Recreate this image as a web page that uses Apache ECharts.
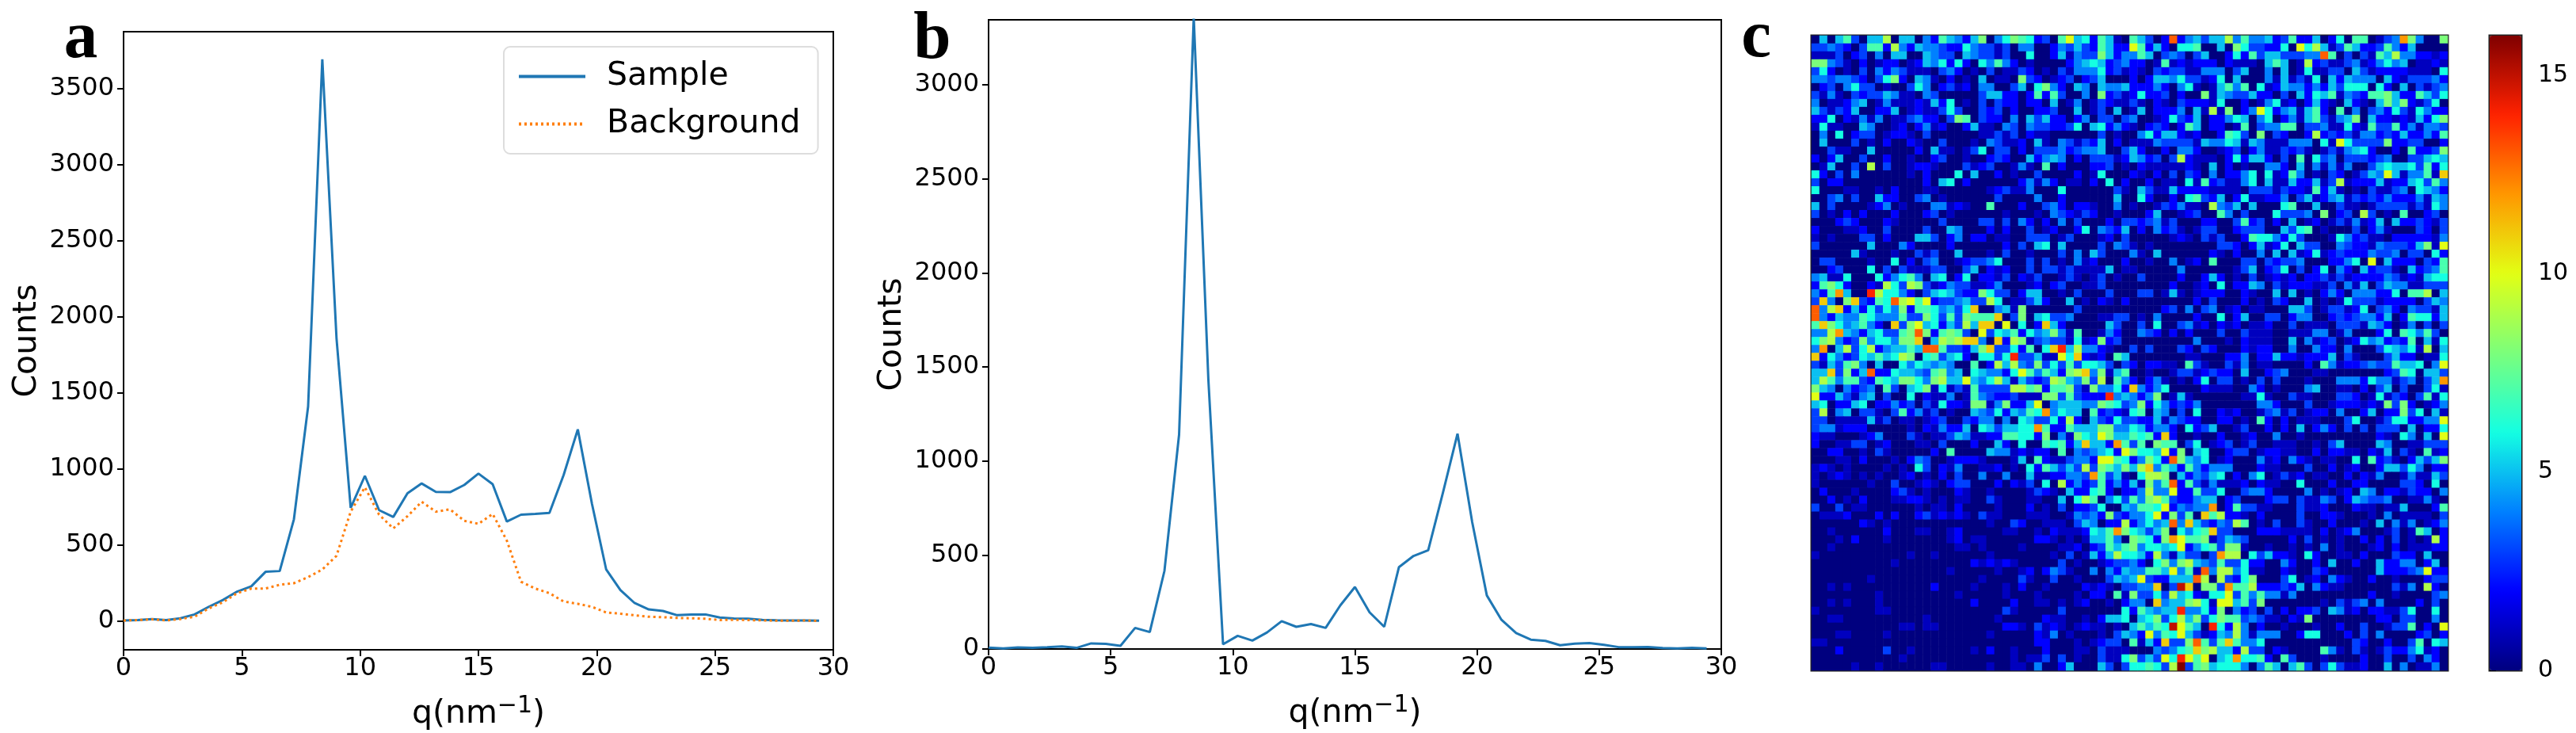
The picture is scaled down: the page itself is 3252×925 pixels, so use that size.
<!DOCTYPE html>
<html>
<head>
    <meta charset="utf-8">
    <script type="text/javascript" src="https://cdn.jsdelivr.net/npm/echarts@6/dist/echarts.min.js"></script>
    <style type="text/css">
        *{
            margin: 0;
            padding: 0;
        }
        #main{
            width: 3252px;
            height: 925px;
        }
    </style>
</head>
<body>
<div id="main"></div>
<script type="text/javascript">
    var qValues = [0, 0.6, 1.2, 1.8, 2.4, 3, 3.6, 4.2, 4.8, 5.4, 6, 6.6, 7.2, 7.8, 8.4, 9, 9.6, 10.2, 10.8, 11.4, 12, 12.6, 13.2, 13.8, 14.4, 15, 15.6, 16.2, 16.8, 17.4, 18, 18.6, 19.2, 19.8, 20.4, 21, 21.6, 22.2, 22.8, 23.4, 24, 24.6, 25.2, 25.8, 26.4, 27, 27.6, 28.2, 28.8, 29.4];
    var sampleCounts = [5, 8, 15, 8, 20, 45, 95, 140, 195, 230, 325, 330, 670, 1410, 3690, 1860, 745, 955, 730, 685, 840, 905, 850, 848, 895, 970, 900, 655, 700, 705, 712, 960, 1260, 770, 340, 205, 120, 78, 68, 40, 45, 45, 25, 18, 17, 10, 7, 5, 6, 4];
    var backgroundCounts = [5, 8, 13, 6, 15, 30, 85, 125, 185, 215, 215, 240, 250, 290, 340, 430, 720, 880, 700, 610, 690, 785, 720, 735, 660, 640, 705, 530, 260, 215, 185, 130, 115, 95, 58, 50, 40, 30, 27, 22, 20, 17, 8, 10, 8, 6, 4, 4, 5, 3];
    var subtractedCounts = [7, 3, 8, 6, 9, 14, 6, 30, 27, 17, 112, 90, 415, 1140, 3360, 1430, 25, 70, 45, 88, 148, 118, 133, 112, 232, 330, 195, 118, 435, 495, 525, 830, 1145, 675, 285, 155, 85, 50, 43, 20, 28, 32, 22, 10, 10, 11, 5, 3, 6, 3];
    var ticksA = [0, 500, 1000, 1500, 2000, 2500, 3000, 3500];
    var ticksB = [0, 500, 1000, 1500, 2000, 2500, 3000];
    var ticksBar = [0, 5, 10, 15];

    // map counts, one base-17 digit per cell (0-g), 80 rows of 80
    var cellRows = [
        "0505730559 0550427542 5804687623 07a5627510 75302d2453 5594744523 7225026077 0134c84008",
        "3343203772 9425443226 4331304400 2435327522 a725206670 0508633226 0a69513752 2374250000",
        "1113023040 5500543305 4331300600 2514338524 4750343035 0026273553 3344d70303 1759442212",
        "8843102012 2012546262 0647420100 0024565234 2201712122 2021110575 0192311341 2464501121",
        "3620103042 4311103420 1030113201 0314446231 2103233114 4403500405 0161133053 1222211106",
        "4434432036 8205410201 0501108320 1230235000 2025546331 2605000415 1316052544 4052133342",
        "0230463301 0036402312 0440035068 4205405445 2224204610 1574706125 4424253666 0620503134",
        "3141032335 4110430000 0355220272 7300408231 2622302008 1543352203 0526571432 7785227536",
        "4011245014 1112152601 0303220220 5014013211 3102103222 1600201461 2025210521 0585821360",
        "5313250022 5012113630 0323020022 3005013050 1502224051 918024a624 5157207040 3426316422",
        "2260214140 1134220387 0322040535 2202403303 4001263250 2246504602 4157314580 5221215268",
        "1611005400 1202412002 5110430433 2236056242 1023202750 2201703447 7033411621 7337241443",
        "0406023301 2210300000 0113130211 0000003010 0462552120 0276308032 0029232314 4232522427",
        "0500030102 0021003000 1043112051 0431325020 1114333315 4465154111 444061a633 3382233002",
        "0031100500 0002051101 3603302033 3423445003 5200204420 0123024113 2310131456 2002072238",
        "2025003002 0010023001 0023200524 5402033312 5423039211 1026255203 0706340333 2340033565",
        "0150030903 0012210003 1230014107 0200022301 0211111210 5020100442 0504141400 3565563726",
        "6203040000 0010200060 5002010030 0002016000 2102030320 4022460612 7401032013 54a514471b",
        "3022000000 0000205602 0000002414 2011020602 0020110617 2311460511 5225139122 2512256374",
        "6000110010 2000110000 0012311400 0600000031 0531152222 1111033313 2217251010 3113406542",
        "0034030052 2003401000 0003000040 0200000050 0620020673 2502611224 0351245132 3242224154",
        "5030000124 0100044121 0070002003 4202210040 1001324110 9435050006 7005003110 1333313164",
        "3010202000 2000230100 0000100010 4321320010 0025001230 0740300063 3340802309 3010700230",
        "0002320002 1000003000 0330304202 0403000203 3234130002 2003723020 5012013141 2505223213",
        "2000112003 0000300540 0020200301 2002604325 0204231013 3002333005 3670100030 2410003203",
        "1010003302 0005530240 2201100333 0130001203 0000012103 1300276642 6300016423 1102222214",
        "3000000500 0420000200 0000203056 0500003043 1010000000 0332025126 0533004322 143332581a",
        "0000051000 1003130050 0010300100 0304053000 4105000000 2102004050 5126123222 4334033062",
        "0330000100 6020340012 3346000303 0104120002 0010040120 7000330323 3400022460 a052220327",
        "0023000603 0311133003 5021200303 3131111501 1000004000 0001350236 0302604205 2331052347",
        "4511600062 4674056026 0221302130 0131013010 0300002002 5201030121 2022313122 2243121566",
        "2786200219 6398312433 1124000120 2300113000 0000020012 0602254031 2221130415 0354411333",
        "427c500e96 6420356532 2863302550 0103000300 0330151012 2200210050 5010242044 4226077905",
        "3b408b3276 d9a7a23345 3396011352 0050102102 0000000020 3000201032 0050101633 3122220354",
        "d49b252636 4827764536 b004518000 0003000000 0000230403 4012011000 5530133126 0342043315",
        "d425447644 4733863738 777b038056 3340001133 0104000020 0602500330 2440023234 4250276625",
        "7b86457420 b38a562539 5bb0a0602b 5200000530 0306003412 0212011200 3011103331 5420140303",
        "449c542563 378d827873 0a36572645 8417001420 0432020200 0300311100 1114401400 0260764730",
        "6894238466 488b05989b b40b298134 3316128230 0000000040 0010211100 5041230126 4523270516",
        "4c05936924 5575dd7332 58b3362706 be59442100 3030003203 2000212200 4004220400 0365461905",
        "b264236575 6980673562 06636e3351 1a6b212075 0000000110 0022402252 2122250310 0035220116",
        "3153784050 0646545400 7029594383 6373665303 2022110731 0031401100 0020741223 433755604a",
        "55b3825d22 6554378450 654426a747 5289b48157 0010013312 3220500234 0001100000 0023760553",
        "5974773276 588648955a 5469515323 9854839074 2024101026 0330103030 0010004442 644134035c",
        "8540423407 3056816131 7333399782 7783184462 b424600002 1110042010 0045001102 0350300361",
        "a225314503 0060211401 7432231118 8373222e45 4248015100 0000116100 3110003320 1613203716",
        "5602256022 4230316221 88148225a0 4555448763 4826423240 0000004420 0030012221 2183820124",
        "3904503310 3724130100 543625476c 4655072321 6705403060 0212001341 3012204002 5022836051",
        "3301111513 0110123003 2440406533 6292053263 3225143220 0220107202 0111000360 013662244a",
        "3441222000 0010214225 06535566c7 2275558844 6524420623 5001300202 0502420303 0333050226",
        "2110001240 0031011354 1122776628 041865a855 7672b20010 0200120040 0100000000 021064050a",
        "2001133012 0001103000 2005206007 6725b552c7 3708770360 1230130011 1001035000 0540011333",
        "0022001031 0000020700 0054412122 070434562a 8665a28056 0023301221 1002022110 2150310712",
        "0001102000 1024300122 2100015072 113442aa76 24862d8546 0120004120 4210110060 7231025358",
        "1210100001 0106302140 0112010627 5353938758 59b4752742 4440002110 0030020120 0255364022",
        "1012101010 0120102030 0400400511 22443c7351 0699805243 5602046013 1201100202 1400141153",
        "1000000100 3001210233 0002021306 0924237242 51847d2731 4111202110 0600020022 0000332060",
        "0200010000 2310100021 0010000132 1052267202 24944a2273 3600344200 0040101205 4022132204",
        "0020102000 1122101011 0031000110 0506970463 7489732245 5023000233 0311430254 3340011410",
        "3003011000 0001011020 0001000201 0302236005 4776a24344 c027331100 0311200021 1011500027",
        "0111200020 2002312121 0311000111 0014342832 446a28370b 7922102000 0300221000 1040111103",
        "0000002101 0000000000 0010032001 1103540229 24645d4b53 2439701030 0310020001 0504140124",
        "0010000002 0001100120 0000110010 21112657c8 6535806467 b330002221 1110201240 0013017502",
        "0001020001 0000000120 1100000022 1010155740 87628ca778 1354300000 2030101002 0203010192",
        "0010000000 0000000011 0100001000 0112023757 846656a246 7388100100 1010401000 1202011122",
        "1000000000 0010010000 0010000000 1030152596 6529415330 3c99063522 1062001102 0003220500",
        "0000000000 1000000000 2121210000 0301001233 4206848954 3733622004 2002050020 0522440250",
        "0000000000 0000000100 0001001202 4310040425 44775a471d 4994611002 1003200000 0522234a22",
        "0000000100 0000000000 0100003100 3001000354 5a322555d9 0932680003 6012042100 2001000233",
        "0010100000 0000020000 1000102001 0000212103 344b03fb08 83c7792223 2504211000 0003140920",
        "0000000010 0000000010 0000100010 0001022071 8336395621 66a3747441 4000000000 2001000034",
        "0010100010 0000000000 2000020011 0101200102 440b455896 1aa5738000 0000103134 0400002030",
        "1000000011 0000000000 0000310000 0300000006 275455e446 2804230302 0223054120 2211360060",
        "0011000000 0000100000 0001000002 1100102556 0568369583 6877343110 2180000000 0220330040",
        "0000000000 0110110000 0000221031 2101211010 57576fa750 e629402001 0001002003 001337020a",
        "0001100001 0000000000 0010000021 4010001035 42a476a531 2549414440 0266000203 0400002302",
        "1100000000 0000000000 0000000022 0001012330 7152b338d7 37b7446000 0000000032 0020037065",
        "0002000003 0010000000 1020010002 0001103111 00043467b8 9552933021 0000741031 0132246120",
        "0000000000 0100000000 0000010113 0301003116 8353a6ea7a 056c667207 3000100002 0030030420",
        "0000010010 0000011000 0010011040 0250005303 667639g378 5666404750 5730363112 0050401140"
    ];

    function pairs(ys) {
        return ys.map(function (y, i) { return [qValues[i], y]; });
    }

    var cellData = [];
    var cellIndex = [];
    cellRows.forEach(function (row, r) {
        cellIndex.push(r);
        row.replace(/ /g, '').split('').forEach(function (ch, c) {
            cellData.push([c, r, parseInt(ch, 17)]);
        });
    });
    var colIndex = cellIndex.slice();

    var black = '#000';
    var font = 'DejaVu Sans';
    function plain(v) { return String(v); }

    function qAxis(idx) {
        return {
            type: 'value', gridIndex: idx, min: 0, max: 30, interval: 5,
            name: '{a|q(nm}{b|\u22121}{a|)}', nameLocation: 'middle', nameGap: 56,
            nameTextStyle: {rich: {
                a: {fontFamily: font, fontSize: 41, color: black},
                b: {fontFamily: font, fontSize: 30, color: black, padding: [0, 0, 20, 0]}
            }},
            axisLine: {onZero: false, lineStyle: {color: black, width: 2}},
            axisTick: {length: 8, lineStyle: {color: black, width: 2}},
            axisLabel: {fontFamily: font, fontSize: 32, color: black, margin: 8, formatter: plain},
            splitLine: {show: false}
        };
    }
    function countAxis(idx, min, max, ticks, gap) {
        return {
            type: 'value', gridIndex: idx, min: min, max: max,
            name: 'Counts', nameLocation: 'middle', nameGap: gap,
            nameTextStyle: {fontFamily: font, fontSize: 41, color: black},
            axisLine: {show: true, onZero: false, lineStyle: {color: black, width: 2}},
            axisTick: {show: true, length: 8, customValues: ticks, lineStyle: {color: black, width: 2}},
            axisLabel: {fontFamily: font, fontSize: 32, color: black, margin: 12, customValues: ticks, formatter: plain},
            splitLine: {show: false}
        };
    }

    var myChart = echarts.init(document.getElementById('main'));
    var option = {
        animation: false,
        backgroundColor: '#fff',
        grid: [
            {left: 156, top: 40, width: 896, height: 780, outerBoundsMode: 'none', show: true, borderColor: black, borderWidth: 2},
            {left: 1248, top: 25, width: 925, height: 794, outerBoundsMode: 'none', show: true, borderColor: black, borderWidth: 2},
            {left: 2287, top: 45, width: 803, height: 801, outerBoundsMode: 'none', show: true, borderColor: '#222', borderWidth: 3},
            {left: 3143, top: 45, width: 40, height: 801, outerBoundsMode: 'none', show: true, borderColor: '#222', borderWidth: 3}
        ],
        xAxis: [
            qAxis(0),
            qAxis(1),
            {type: 'category', gridIndex: 2, data: colIndex, show: false},
            {type: 'value', gridIndex: 3, show: false, min: 0, max: 1}
        ],
        yAxis: [
            countAxis(0, -187, 3871, ticksA, 101),
            countAxis(1, 0, 3346, ticksB, 101),
            {type: 'category', gridIndex: 2, data: cellIndex, inverse: true, show: false},
            {
                type: 'value', gridIndex: 3, position: 'right', min: 0, max: 16,
                axisLine: {show: false},
                axisTick: {show: true, length: 8, customValues: ticksBar, lineStyle: {color: black, width: 2}},
                axisLabel: {fontFamily: font, fontSize: 30, color: black, margin: 21, customValues: ticksBar, formatter: plain},
                splitLine: {show: false}
            }
        ],
        legend: {
            left: 636, top: 59, orient: 'vertical', align: 'left',
            padding: [17, 22, 17, 17], itemGap: 19, itemWidth: 84, itemHeight: 40,
            borderColor: '#ddd', borderWidth: 2, borderRadius: 8,
            itemStyle: {opacity: 0},
            lineStyle: {width: 4},
            textStyle: {fontFamily: font, fontSize: 41, color: black, padding: [0, 0, 0, 22]},
            data: ['Sample', 'Background']
        },
        visualMap: {
            type: 'continuous', seriesIndex: 3, min: 0, max: 16,
            left: 3143, top: 45, itemWidth: 40, itemHeight: 801, padding: 0,
            calculable: false, showLabel: false, text: null, hoverLink: false,
            inRange: {color: ['#00007f', '#0000ff', '#0080ff', '#14ffe2', '#7bff7b', '#e2ff14', '#ff9700', '#ff2200', '#800000']}
        },
        series: [
            {name: 'Sample', type: 'line', xAxisIndex: 0, yAxisIndex: 0, symbol: 'none', data: pairs(sampleCounts),
                lineStyle: {color: '#1f77b4', width: 3}, itemStyle: {color: '#1f77b4'}},
            {name: 'Background', type: 'line', xAxisIndex: 0, yAxisIndex: 0, symbol: 'none', data: pairs(backgroundCounts),
                lineStyle: {color: '#ff7f0e', width: 3, type: [3, 4]}, itemStyle: {color: '#ff7f0e'}},
            {name: 'Subtracted', type: 'line', xAxisIndex: 1, yAxisIndex: 1, symbol: 'none', data: pairs(subtractedCounts),
                lineStyle: {color: '#1f77b4', width: 3}, clip: true},
            {name: 'Map', type: 'heatmap', xAxisIndex: 2, yAxisIndex: 2, data: cellData, itemStyle: {borderWidth: 0}}
        ],
        graphic: [
            {type: 'text', x: 102, y: 93, style: {text: 'a', font: 'bold 85px "Liberation Serif"', fill: black, textAlign: 'center', textVerticalAlign: 'bottom'}},
            {type: 'text', x: 1177, y: 94, style: {text: 'b', font: 'bold 85px "Liberation Serif"', fill: black, textAlign: 'center', textVerticalAlign: 'bottom'}},
            {type: 'text', x: 2217, y: 92, style: {text: 'c', font: 'bold 85px "Liberation Serif"', fill: black, textAlign: 'center', textVerticalAlign: 'bottom'}}
        ]
    };
    myChart.setOption(option);
</script>
</body>
</html>
